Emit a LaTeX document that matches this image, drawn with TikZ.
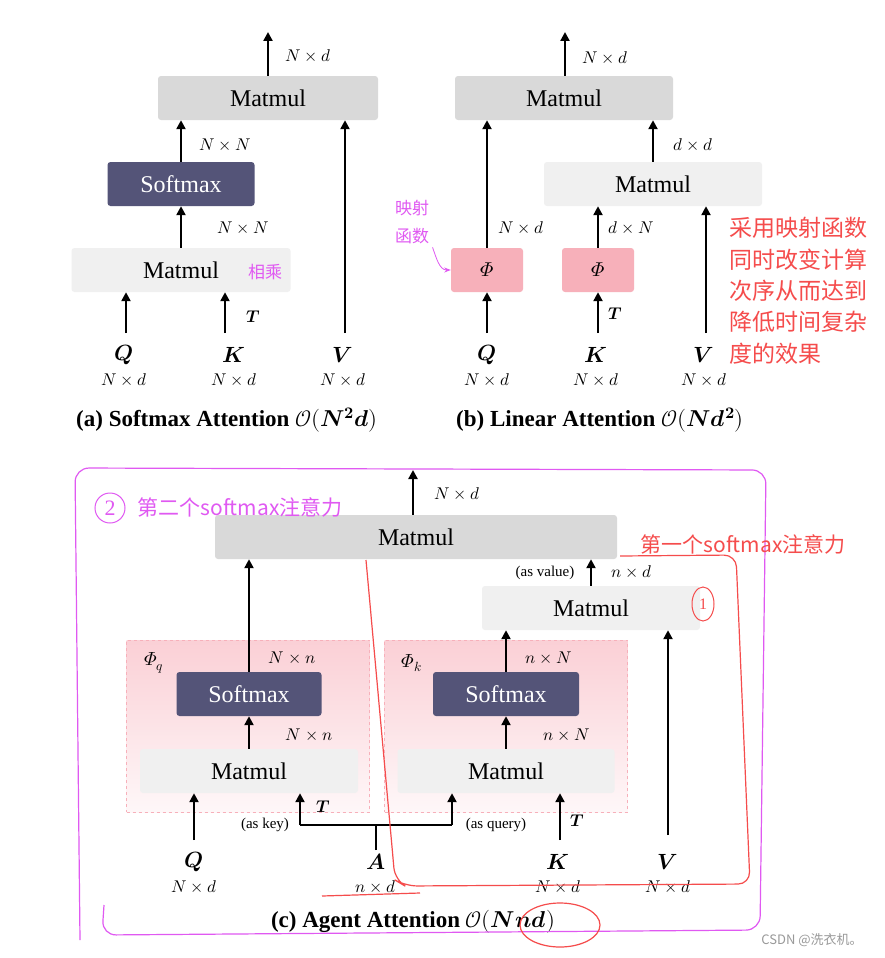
\documentclass[tikz,border=0pt]{standalone}
\usepackage{amsmath}
\usepackage[math-style=ISO]{unicode-math}
\setmainfont{Liberation Serif}
\setmathfont{Latin Modern Math}
\newfontfamily\cjk{Noto Sans CJK SC}
\usetikzlibrary{arrows.meta}
\definecolor{boxgray}{rgb}{0.85,0.85,0.85}
\definecolor{boxlight}{rgb}{0.94,0.94,0.94}
\definecolor{boxdark}{rgb}{0.33,0.33,0.47}
\definecolor{phipink}{rgb}{0.97,0.69,0.73}
\definecolor{annored}{rgb}{0.96,0.30,0.30}
\definecolor{annomag}{rgb}{0.88,0.35,0.95}
\tikzset{
  box/.style={rectangle,rounded corners=3pt,minimum height=44pt,font=\fontsize{24}{26}\selectfont},
  gray box/.style={box,fill=boxgray},
  light box/.style={box,fill=boxlight},
  dark box/.style={box,fill=boxdark,text=white},
  phi box/.style={box,fill=phipink,minimum width=72pt,font=\fontsize{20}{22}\selectfont},
  agent/.style={draw=phipink,dashed,line width=1pt,top color=phipink!60,bottom color=phipink!10,minimum width=243pt,minimum height=172pt},
  arr/.style={-{Triangle[length=9pt,width=9pt]},line width=2.6pt},
  dim/.style={font=\fontsize{17}{19}\selectfont},
  var/.style={font=\fontsize{22}{24}\selectfont},
  capt/.style={font=\fontsize{23}{26}\selectfont\bfseries},
  note/.style={font=\fontsize{15}{17}\selectfont}
}
\begin{document}
\begin{tikzpicture}[x=1pt,y=-1pt]
\useasboundingbox[fill=white] (0,0) rectangle (885,958);

% (a) softmax attention
\node[gray box,minimum width=220pt] (amm2) at (268,98) {Matmul};
\node[dark box,minimum width=147pt] (asm) at (181,184) {Softmax};
\node[light box,minimum width=219pt] (amm1) at (181,270) {Matmul};
\coordinate (aout) at (268,32);
\coordinate (aq) at (126,333);
\coordinate (ak) at (225,333);
\coordinate (av) at (345,333);
\draw[arr] (amm2.north -| aout) -- (aout);
\draw[arr] (asm.north) -- (amm2.south -| asm);
\draw[arr] (amm1.north) -- (asm.south);
\draw[arr] (aq) -- (amm1.south -| aq);
\draw[arr] (ak) -- (amm1.south -| ak);
\draw[arr] (av) -- (amm2.south -| av);
\node[dim] at (308,56) {$N\times d$};
\node[dim] at (225,145) {$N\times N$};
\node[dim] at (243,228) {$N\times N$};
\node[dim] at (253,317) {$\symbfit{T}$};
\foreach \x/\v in {124/Q,234/K,343/V}{
  \node[var] at (\x,355) {$\symbfit{\v}$};
  \node[dim] at (\x,380) {$N\times d$};
}
\node[capt] at (227,420) {(a) Softmax Attention $\mathcal{O}(\symbfit{N}^{\symbf{2}}\symbfit{d})$};
\node[text=annomag,font=\cjk\fontsize{17}{19}\selectfont] at (265,272) {相乘};

% (b) linear attention
\node[gray box,minimum width=218pt] (bmm2) at (564,98) {Matmul};
\node[light box,minimum width=218pt] (bmm1) at (653,184) {Matmul};
\node[phi box] (bphq) at (487,270) {$\Phi$};
\node[phi box] (bphk) at (598,270) {$\Phi$};
\coordinate (bout) at (565,32);
\coordinate (bq) at (487,333);
\coordinate (bk) at (598,333);
\coordinate (bv) at (706,333);
\draw[arr] (bmm2.north -| bout) -- (bout);
\draw[arr] (bmm1.north) -- (bmm2.south -| bmm1);
\draw[arr] (bphq.north) -- (bmm2.south -| bphq);
\draw[arr] (bphk.north) -- (bmm1.south -| bphk);
\draw[arr] (bq) -- (bphq.south);
\draw[arr] (bk) -- (bphk.south);
\draw[arr] (bv) -- (bmm1.south -| bv);
\node[dim] at (605,58) {$N\times d$};
\node[dim] at (693,145) {$d\times d$};
\node[dim] at (521,228) {$N\times d$};
\node[dim] at (631,228) {$d\times N$};
\node[dim] at (615,314) {$\symbfit{T}$};
\foreach \x/\v in {487/Q,596/K,704/V}{
  \node[var] at (\x,355) {$\symbfit{\v}$};
  \node[dim] at (\x,380) {$N\times d$};
}
\node[capt] at (600,420) {(b) Linear Attention $\mathcal{O}(\symbfit{N}\symbfit{d}^{\symbf{2}})$};
\node[text=annored,align=left,anchor=north west,font=\cjk\fontsize{23}{31.3}\selectfont] at (726,214)
  {采用映射函数\\同时改变计算\\次序从而达到\\降低时间复杂\\度的效果};
\node[text=annomag,align=center,font=\cjk\fontsize{17}{28}\selectfont] (bnote) at (412,222) {映射\\函数};
\draw[annomag,line width=0.8pt,-{Stealth}] (bnote.south east) to[out=-70,in=180] (bphq.west);

% (c) agent attention
\node[agent] (phq) at (248,726) {};
\node[agent] (phk) at (506,726) {};
\node[gray box,minimum width=402pt] (cmm3) at (416,537) {Matmul};
\node[light box,minimum width=218pt] (cmm2) at (591,608) {Matmul};
\node[dark box,minimum width=145pt] (csmq) at (249,694) {Softmax};
\node[dark box,minimum width=146pt] (csmk) at (506,694) {Softmax};
\node[light box,minimum width=218pt] (cmmq) at (249,771) {Matmul};
\node[light box,minimum width=217pt] (cmmk) at (506,771) {Matmul};
\node[font=\fontsize{19}{21}\selectfont] at (154,663) {$\Phi_q$};
\node[font=\fontsize{19}{21}\selectfont] at (412,663) {$\Phi_k$};
\coordinate (cout) at (413,470);
\coordinate (cq) at (194,840);
\coordinate (ca) at (376,850);
\coordinate (cj) at (376,825);
\coordinate (cak) at (300,825);
\coordinate (caq) at (452,825);
\coordinate (ck) at (560,840);
\coordinate (cv) at (668,835);
\draw[arr] (cmm3.north -| cout) -- (cout);
\draw[arr] (cmm2.north) -- (cmm3.south -| cmm2);
\draw[arr] (csmq.north) -- (cmm3.south -| csmq);
\draw[arr] (csmk.north) -- (cmm2.south -| csmk);
\draw[arr] (cmmq.north) -- (csmq.south);
\draw[arr] (cmmk.north) -- (csmk.south);
\draw[arr] (cq) -- (cmmq.south -| cq);
\draw[arr] (ck) -- (cmmk.south -| ck);
\draw[arr] (cv) -- (cmm2.south -| cv);
\draw[line width=2.6pt] (ca) -- (cj);
\draw[line width=2.6pt] (cak) -- (caq);
\draw[arr] (cak) -- (cmmq.south -| cak);
\draw[arr] (caq) -- (cmmk.south -| caq);
\node[dim] at (457,494) {$N\times d$};
\node[note] at (545,573) {(as value)};
\node[dim] at (632,572) {$n\times d$};
\node[dim] at (292,658) {$N\times n$};
\node[dim] at (309,735) {$N\times n$};
\node[dim] at (549,658) {$n\times N$};
\node[dim] at (567,735) {$n\times N$};
\node[note] at (265,825) {(as key)};
\node[dim] at (323,807) {$\symbfit{T}$};
\node[note] at (496,825) {(as query)};
\node[dim] at (577,821) {$\symbfit{T}$};
\foreach \x/\v/\s in {194/Q/N,376/A/n,558/K/N,668/V/N}{
  \node[var] at (\x,862) {$\symbfit{\v}$};
  \node[dim] at (\x,887) {$\s\times d$};
}
\node[capt] at (413,922) {(c) Agent Attention $\mathcal{O}(\symbfit{Nnd})$};

% annotations
\draw[annomag,line width=1.2pt,rounded corners=14pt] (104,905) -- (102,935) -- (760,930) -- (766,470) -- (75,468) -- (80,940);
\node[text=annomag,font=\cjk\fontsize{21}{23}\selectfont,anchor=west] at (134,507) {第二个softmax注意力};
\draw[annomag,line width=1pt] (110,508) circle (15pt);
\node[text=annomag,font=\fontsize{22}{24}\selectfont] at (110,508) {2};
\node[text=annored,font=\cjk\fontsize{21}{23}\selectfont,anchor=west] at (637,544) {第一个softmax注意力};
\draw[annored,line width=1.2pt,rounded corners=12pt] (366,560) -- (395,880) -- (405,886) -- (750,884) -- (736,555) -- (620,556);
\draw[annored,line width=1.2pt] (560,925) ellipse (40pt and 22pt);
\draw[annored,line width=1.2pt] (322,896) -- (420,893);
\draw[annored,line width=1pt] (703,604) ellipse (11pt and 17pt);
\node[text=annored,font=\fontsize{16}{18}\selectfont] at (703,604) {1};
\node[text=gray!80,font=\cjk\fontsize{13}{15}\selectfont] at (812,940) {CSDN @洗衣机。};
\end{tikzpicture}
\end{document}
